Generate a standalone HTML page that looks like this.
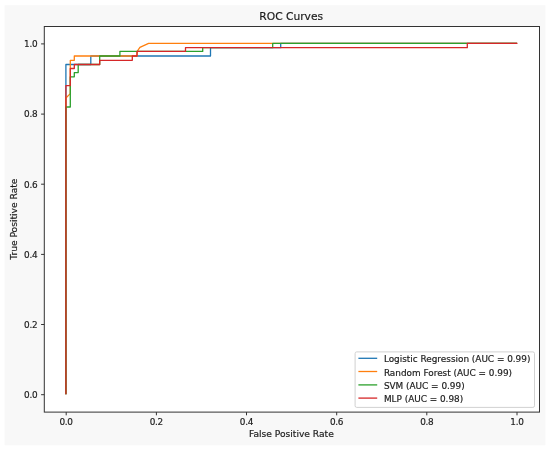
<!DOCTYPE html>
<html lang="en">
<head>
<meta charset="utf-8">
<title>ROC Curves</title>
<style>
html,body{margin:0;padding:0;background:#ffffff;}
body{width:550px;height:450px;overflow:hidden;}
svg{display:block;}
text{font-family:"DejaVu Sans","Liberation Sans",sans-serif;fill:#1c1c1c;stroke:#1c1c1c;stroke-width:0.18px;}
</style>
</head>
<body>
<svg width="550" height="450" viewBox="0 0 550 450">
<rect x="0" y="0" width="550" height="450" fill="#ffffff"/>
<rect x="4.6" y="5.2" width="540.8" height="440.1" fill="#f8f8f8"/>
<rect x="44.3" y="26.5" width="495.2" height="385.6" fill="#ffffff"/>
<g fill="none" stroke-width="1.3" stroke-linejoin="round" stroke-linecap="butt">
<polyline stroke="#1f77b4" points="65.9,394.2 65.9,64.5 90.8,64.5 90.8,56.0 210.5,56.0 210.5,47.7 280.7,47.7 280.7,43.3 517.0,43.3"/>
<polyline stroke="#ff7f0e" points="65.9,394.2 65.9,98.0 70.3,93.6 70.3,60.3 74.3,60.3 74.3,56.0 137.0,56.0 137.2,51.4 139.9,47.4 148.6,43.3 517.0,43.3"/>
<polyline stroke="#2ca02c" points="65.9,394.2 65.9,107.0 70.3,107.0 70.3,76.8 74.3,76.8 74.3,72.6 78.2,72.6 78.2,64.5 99.7,64.5 99.7,56.0 119.9,56.0 119.9,51.4 202.7,51.4 202.7,47.7 272.7,47.7 272.7,43.3 517.0,43.3"/>
<polyline stroke="#d62728" points="65.9,394.2 65.9,85.6 70.3,85.6 70.3,68.5 74.3,68.5 74.3,64.5 99.7,64.5 99.7,60.3 132.3,60.3 132.3,56.0 137.0,56.0 137.0,51.4 185.5,51.4 185.5,47.7 467.3,47.7 467.3,43.3 517.5,43.3"/>
</g>
<rect x="44.3" y="26.5" width="495.2" height="385.6" fill="none" stroke="#333333" stroke-width="1"/>
<g stroke="#333333" stroke-width="1">
<line x1="66.2" y1="412.1" x2="66.2" y2="415.3"/>
<line x1="41.1" y1="394.7" x2="44.3" y2="394.7"/>
<line x1="156.4" y1="412.1" x2="156.4" y2="415.3"/>
<line x1="41.1" y1="324.5" x2="44.3" y2="324.5"/>
<line x1="246.5" y1="412.1" x2="246.5" y2="415.3"/>
<line x1="41.1" y1="254.4" x2="44.3" y2="254.4"/>
<line x1="336.7" y1="412.1" x2="336.7" y2="415.3"/>
<line x1="41.1" y1="184.2" x2="44.3" y2="184.2"/>
<line x1="426.8" y1="412.1" x2="426.8" y2="415.3"/>
<line x1="41.1" y1="114.1" x2="44.3" y2="114.1"/>
<line x1="517.0" y1="412.1" x2="517.0" y2="415.3"/>
<line x1="41.1" y1="43.9" x2="44.3" y2="43.9"/>
</g>
<g font-size="8.9" letter-spacing="-0.35">
<text x="66.1" y="424.5" text-anchor="middle">0.0</text>
<text x="156.3" y="424.5" text-anchor="middle">0.2</text>
<text x="246.4" y="424.5" text-anchor="middle">0.4</text>
<text x="336.6" y="424.5" text-anchor="middle">0.6</text>
<text x="426.7" y="424.5" text-anchor="middle">0.8</text>
<text x="516.9" y="424.5" text-anchor="middle">1.0</text>
<text x="37.2" y="398.0" text-anchor="end">0.0</text>
<text x="37.2" y="327.8" text-anchor="end">0.2</text>
<text x="37.2" y="257.7" text-anchor="end">0.4</text>
<text x="37.2" y="187.5" text-anchor="end">0.6</text>
<text x="37.2" y="117.4" text-anchor="end">0.8</text>
<text x="37.2" y="47.2" text-anchor="end">1.0</text>
</g>
<text x="291.4" y="437.2" font-size="9.15" text-anchor="middle">False Positive Rate</text>
<text transform="translate(16.9,219.2) rotate(-90)" font-size="9.15" text-anchor="middle">True Positive Rate</text>
<text x="291.2" y="20.3" font-size="10.7" text-anchor="middle">ROC Curves</text>
<rect x="355.1" y="351.9" width="179.4" height="55.5" rx="1.6" ry="1.6" fill="#ffffff" fill-opacity="0.8" stroke="#cccccc" stroke-opacity="0.9" stroke-width="1"/>
<line x1="358.4" y1="358.3" x2="377.2" y2="358.3" stroke="#1f77b4" stroke-width="1.3"/>
<text x="383.9" y="361.9" font-size="8.9">Logistic Regression (AUC = 0.99)</text>
<line x1="358.4" y1="371.5" x2="377.2" y2="371.5" stroke="#ff7f0e" stroke-width="1.3"/>
<text x="383.9" y="375.6" font-size="8.9">Random Forest (AUC = 0.99)</text>
<line x1="358.4" y1="384.9" x2="377.2" y2="384.9" stroke="#2ca02c" stroke-width="1.3"/>
<text x="383.9" y="389.1" font-size="8.9">SVM (AUC = 0.99)</text>
<line x1="358.4" y1="398.1" x2="377.2" y2="398.1" stroke="#d62728" stroke-width="1.3"/>
<text x="383.9" y="402.4" font-size="8.9">MLP (AUC = 0.98)</text>
</svg>
</body>
</html>
